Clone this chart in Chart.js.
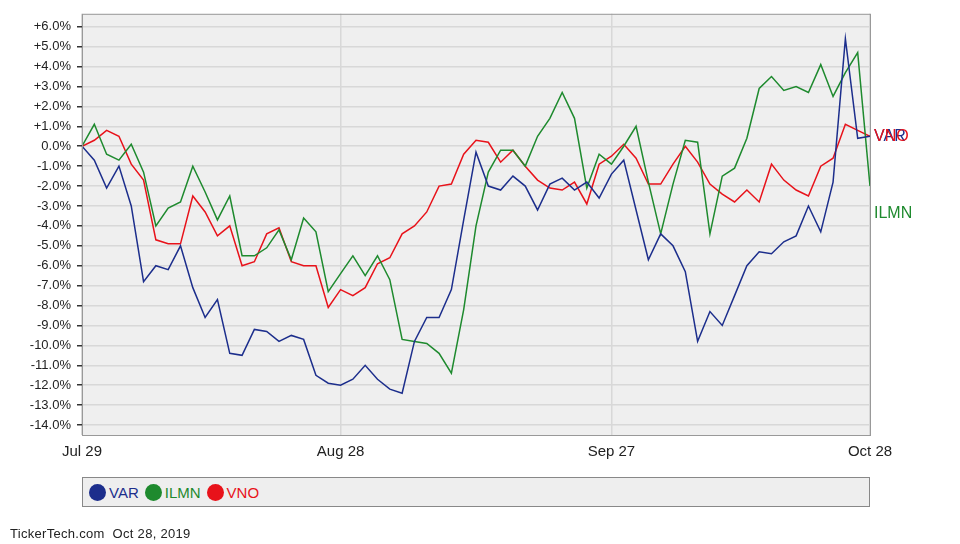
<!DOCTYPE html>
<html><head><meta charset="utf-8">
<script src="https://cdn.jsdelivr.net/npm/chart.js@4"></script>
<style>
body{margin:0;background:#fff;font-family:"Liberation Sans",Arial,sans-serif;}
#wrap{position:relative;width:960px;height:544px;}
#legend{position:absolute;left:82px;top:477px;width:786px;height:28px;border:1px solid #888;background:#eee;display:flex;align-items:center;font-size:15px;}
#legend span.i{display:inline-flex;align-items:center;margin-left:6px;}
#legend span.d{display:inline-block;width:17px;height:17px;border-radius:50%;margin-right:3px;}
#foot{position:absolute;left:10px;top:526px;font-size:13px;color:#222;letter-spacing:0.3px}
</style></head><body>
<div id="wrap"><canvas id="c" width="960" height="544"></canvas>
<div id="legend"></div>
<div id="foot">TickerTech.com&nbsp; Oct 28, 2019</div></div>
<script>
const seriesNames=["VAR","ILMN","VNO"];
const seriesColors=["#1c2e8c","#1e8a2e","#e8121a"];
const varVals=[0,-0.7,-2.1,-1.0,-3.0,-6.8,-6.0,-6.2,-5.0,-7.1,-8.6,-7.7,-10.4,-10.5,-9.2,-9.3,-9.8,-9.5,-9.7,-11.5,-11.9,-12.0,
-11.7,-11.0,-11.7,-12.2,-12.4,-9.8,-8.6,-8.6,-7.2,-3.7,-0.3,-2.0,-2.2,-1.5,-2.0,-3.2,-1.9,-1.6,-2.2,-1.8,-2.6,-1.4,
-0.7,-3.2,-5.7,-4.4,-5.0,-6.3,-9.8,-8.3,-9.0,-7.5,-6.0,-5.3,-5.4,-4.8,-4.5,-3.0,-4.3,-1.8,5.4,0.4,0.5];
const ilmnVals=[0,1.1,-0.4,-0.7,0.1,-1.3,-4.0,-3.1,-2.8,-1.0,-2.3,-3.7,-2.5,-5.5,-5.5,-5.1,-4.2,-5.7,-3.6,-4.3,-7.3,-6.4,
-5.5,-6.5,-5.5,-6.7,-9.7,-9.8,-9.9,-10.4,-11.4,-8.2,-4.0,-1.3,-0.2,-0.2,-1.0,0.5,1.4,2.7,1.4,-2.1,-0.4,-0.9,
0,1.0,-1.8,-4.4,-1.9,0.3,0.2,-4.4,-1.5,-1.1,0.4,2.9,3.5,2.8,3.0,2.7,4.1,2.5,3.7,4.7,-2.0];
const vnoVals=[0,0.3,0.8,0.5,-0.9,-1.7,-4.7,-4.9,-4.9,-2.5,-3.3,-4.5,-4.0,-6.0,-5.8,-4.4,-4.1,-5.8,-6.0,-6.0,-8.1,-7.2,
-7.5,-7.1,-5.9,-5.6,-4.4,-4.0,-3.3,-2.0,-1.9,-0.4,0.3,0.2,-0.8,-0.2,-1.0,-1.7,-2.1,-2.2,-1.8,-2.9,-0.9,-0.5,
0.1,-0.6,-1.9,-1.9,-0.9,0,-0.8,-1.9,-2.4,-2.8,-2.2,-2.8,-0.9,-1.7,-2.2,-2.5,-1.0,-0.6,1.1,0.8,0.5];
const endLabelValues=[0.5,-3.4,0.5];
const tickIndex=[0,21,43,64];
const tickLabels=["Jul 29","Aug 28","Sep 27","Oct 28"];
const yTicks=[6,5,4,3,2,1,0,-1,-2,-3,-4,-5,-6,-7,-8,-9,-10,-11,-12,-13,-14];
const allVals=[varVals,ilmnVals,vnoVals];

const lg=document.getElementById('legend');
seriesNames.forEach((n,i)=>{lg.innerHTML+=`<span class="i"><span class="d" style="background:${seriesColors[i]}"></span><span style="color:${seriesColors[i]}">${n}</span></span>`;});

const bgPlugin={id:'bg',beforeDraw(ch){const a=ch.chartArea,c=ch.ctx;c.save();c.fillStyle='#efefef';c.fillRect(a.left,a.top,a.right-a.left,a.bottom-a.top);c.restore();},
afterDraw(ch){const a=ch.chartArea,c=ch.ctx;c.save();c.strokeStyle='#999';c.lineWidth=1;c.strokeRect(a.left+0.5,a.top+0.5,a.right-a.left,a.bottom-a.top);
c.font='16px "Liberation Sans",Arial';c.textBaseline='middle';
[1,0,2].forEach(i=>{c.fillStyle=seriesColors[i];c.fillText(seriesNames[i],a.right+4,ch.scales.y.getPixelForValue(endLabelValues[i]));});c.restore();}};

new Chart(document.getElementById('c'),{type:'line',
data:{datasets:seriesNames.map((n,i)=>({label:n,data:allVals[i].map((v,k)=>({x:k,y:v})),borderColor:seriesColors[i],borderWidth:1.5,pointRadius:0,tension:0,fill:false}))},
options:{responsive:false,animation:false,layout:{padding:{left:0,right:90,top:0,bottom:0}},
plugins:{legend:{display:false},tooltip:{enabled:false}},
scales:{
x:{type:'linear',min:0,max:64,afterBuildTicks(s){s.ticks=tickIndex.map(v=>({value:v}));},
ticks:{autoSkip:false,maxRotation:0,padding:8,color:'#222',font:{size:15,family:'"Liberation Sans",Arial'},callback:(v)=>tickLabels[tickIndex.indexOf(v)]},
grid:{color:'#d8d8d8',lineWidth:1.5,drawTicks:false},border:{display:false},afterFit(s){s.height=109;}},
y:{min:-14.5,max:6.65,afterBuildTicks(s){s.ticks=yTicks.map(v=>({value:v}));},
ticks:{autoSkip:false,padding:6,color:'#222',font:{size:13,family:'"Liberation Sans",Arial'},callback:v=>(v>0?'+':'')+v.toFixed(1)+'%'},
grid:{color:'#d8d8d8',lineWidth:1.5,tickLength:5,tickColor:'#333'},border:{display:false},afterFit(s){s.width=82;}}}},
plugins:[bgPlugin]});
</script></body></html>
